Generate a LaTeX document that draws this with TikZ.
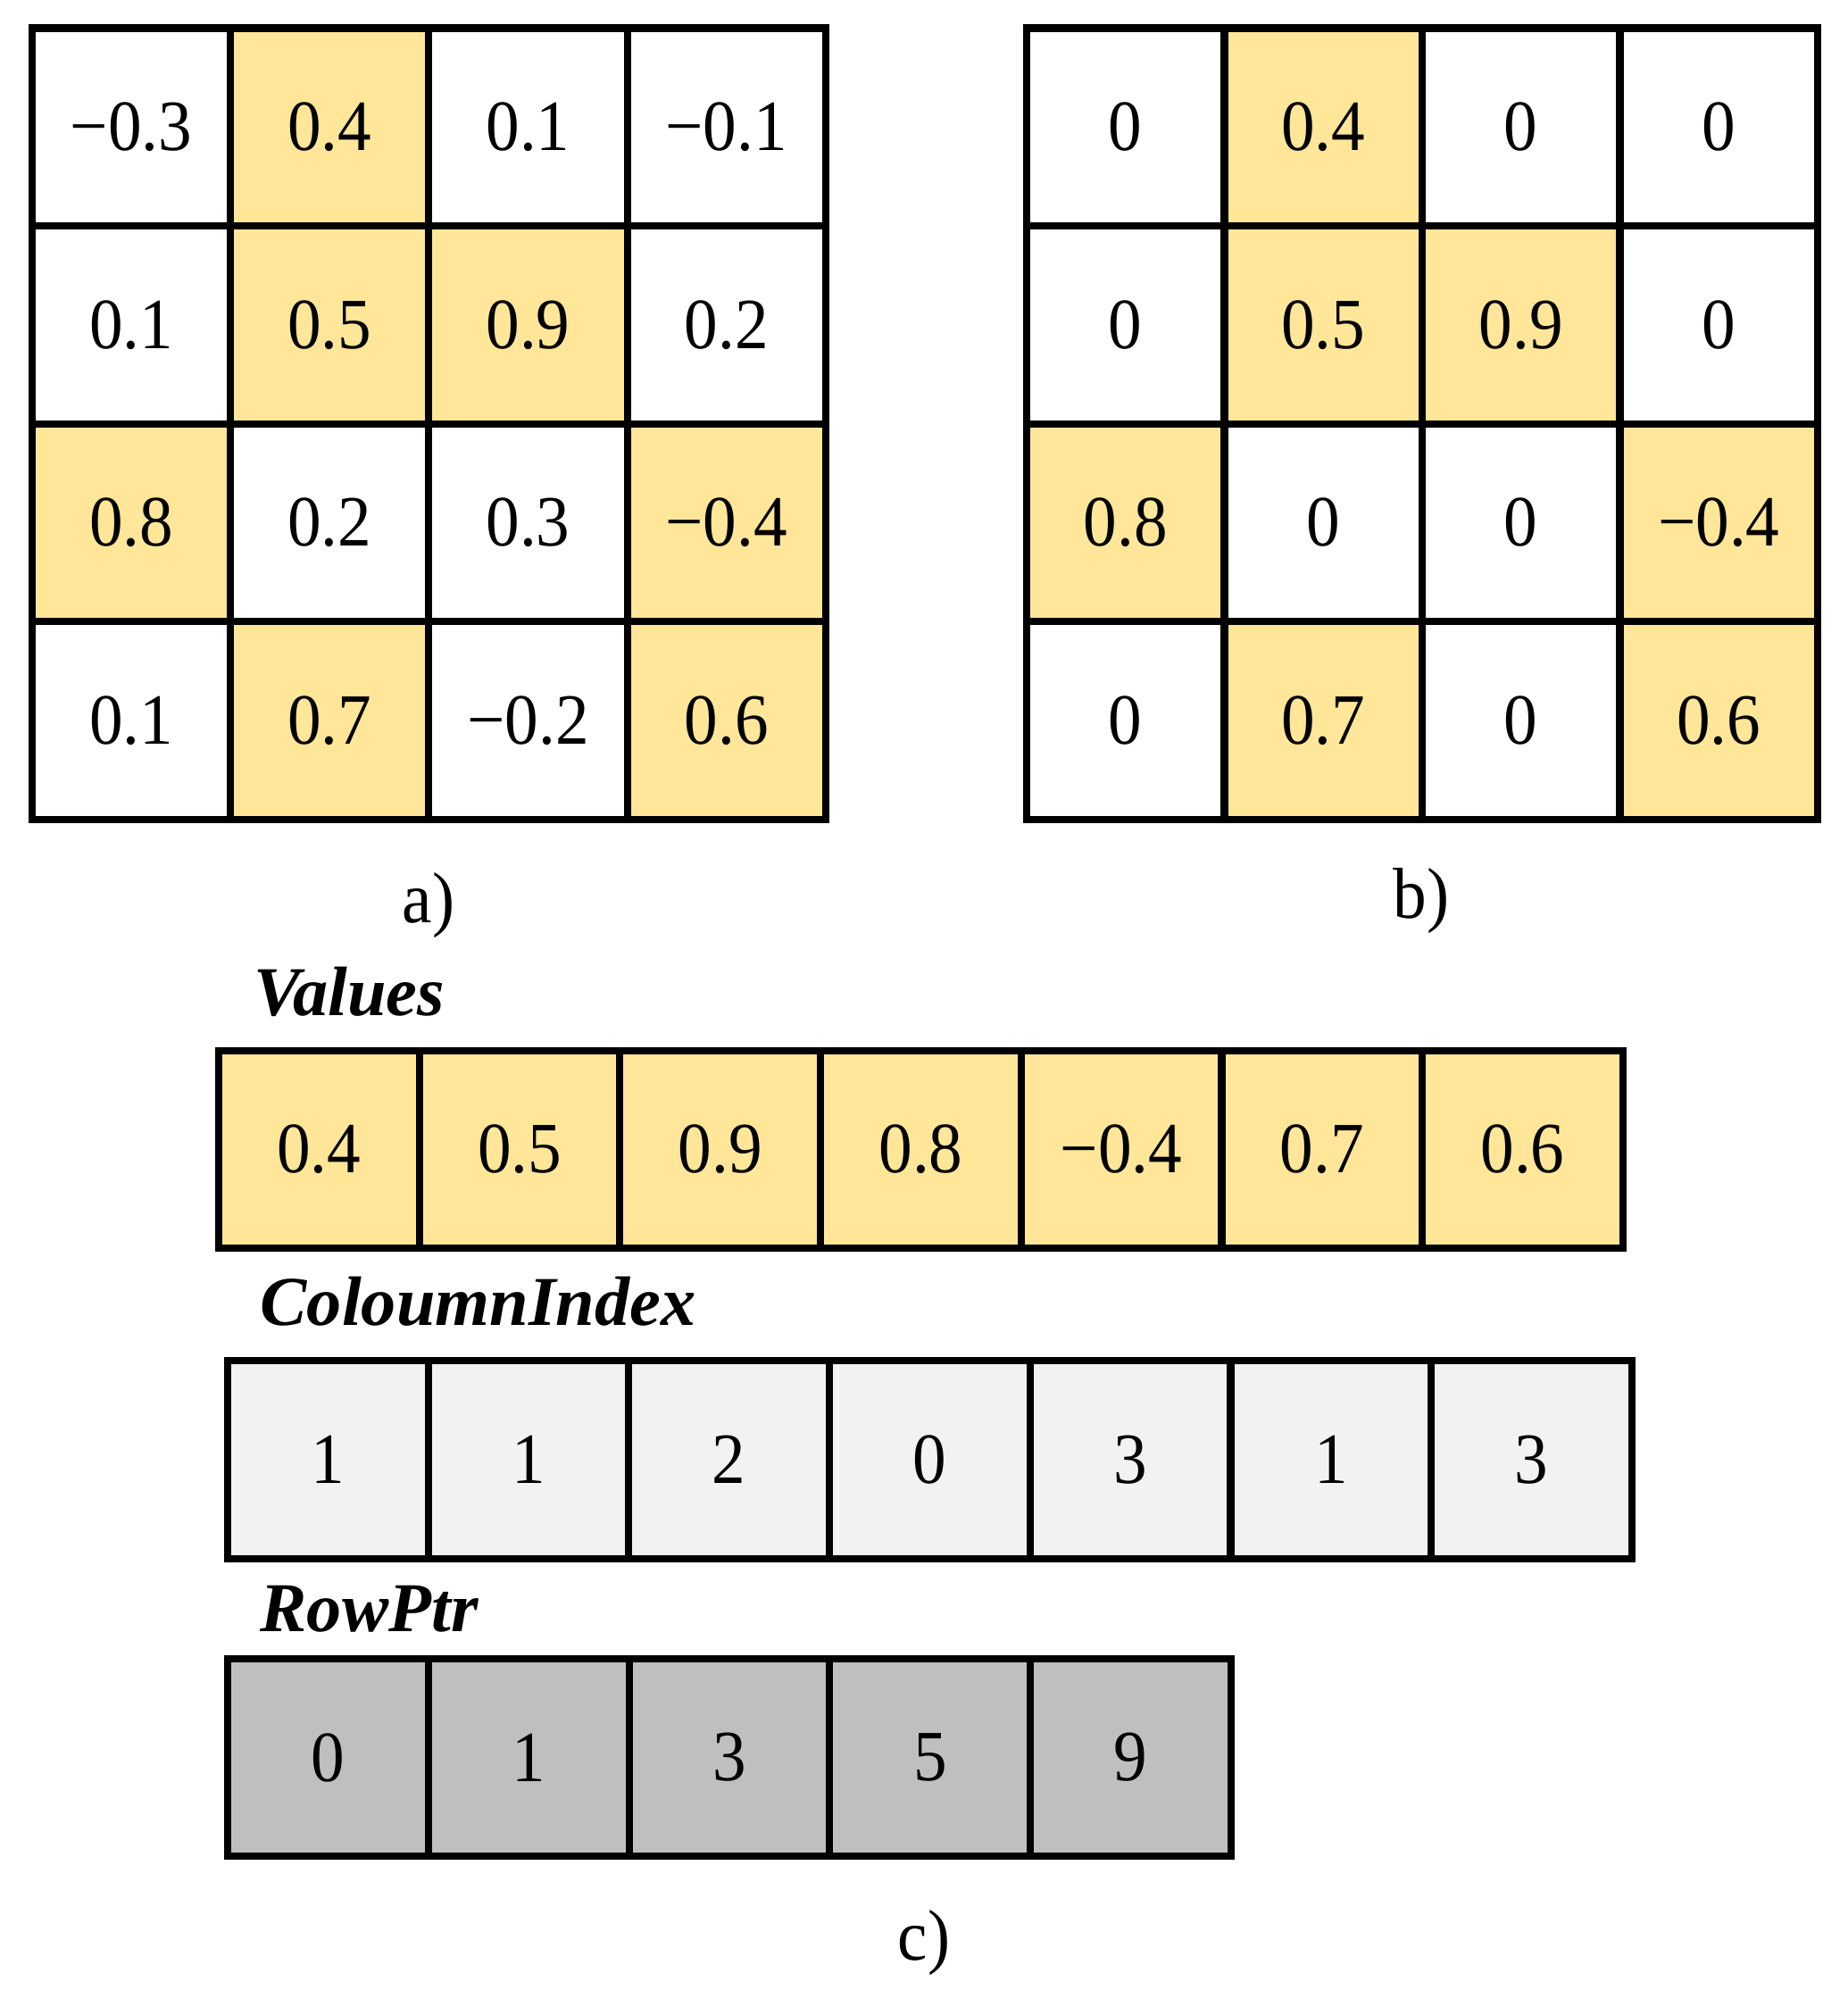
\documentclass[tikz,border=0pt]{standalone}
\usepackage{fontspec}
\setmainfont[FakeStretch=0.93]{Liberation Serif}
\newfontfamily\labfont{Liberation Serif}
\definecolor{cellyellow}{HTML}{FFE699}
\definecolor{celllight}{HTML}{F2F2F2}
\definecolor{cellgray}{HTML}{BFBFBF}
\begin{document}
\begin{tikzpicture}[
  cellbase/.style={inner sep=0pt, outer sep=0pt, font=\fontsize{23}{27}\selectfont, text=black},
  mcell/.style={cellbase, minimum width=2.222cm, minimum height=2.216cm},
  bcell/.style={cellbase, minimum width=2.215cm, minimum height=2.216cm},
  vcell/.style={cellbase, minimum width=2.247cm, minimum height=2.21cm, fill=cellyellow},
  icell/.style={cellbase, minimum width=2.247cm, minimum height=2.22cm, fill=celllight},
  rcell/.style={cellbase, minimum width=2.248cm, minimum height=2.21cm, fill=cellgray},
  wfill/.style={fill=white},
  yfill/.style={fill=cellyellow},
  border/.style={draw=black, line width=2.3pt},
  lab/.style={inner sep=0pt, font=\labfont\fontsize{22.3}{27}\selectfont\bfseries\itshape},
  captxt/.style={inner sep=0pt, font=\fontsize{23}{27}\selectfont}
]
\useasboundingbox (0,0) rectangle (20.69,-22.48);

% matrix a
\foreach \r/\c/\t/\s in {
  1/1/−0.3/wfill, 1/2/0.4/yfill, 1/3/0.1/wfill, 1/4/−0.1/wfill,
  2/1/0.1/wfill, 2/2/0.5/yfill, 2/3/0.9/yfill, 2/4/0.2/wfill,
  3/1/0.8/yfill, 3/2/0.2/wfill, 3/3/0.3/wfill, 3/4/−0.4/yfill,
  4/1/0.1/wfill, 4/2/0.7/yfill, 4/3/−0.2/wfill, 4/4/0.6/yfill}
  \node[mcell, \s] (a-\r-\c) at ({(36+(\c-0.5)*222.2)/100}, {-(31.5+(\r-0.5)*221.6)/100}) {\t};
\foreach \r in {1,...,4}
  \foreach \c in {1,...,4}
    \draw[border] (a-\r-\c.north west) rectangle (a-\r-\c.south east);

% matrix b
\foreach \r/\c/\t/\s in {
  1/1/0/wfill, 1/2/0.4/yfill, 1/3/0/wfill, 1/4/0/wfill,
  2/1/0/wfill, 2/2/0.5/yfill, 2/3/0.9/yfill, 2/4/0/wfill,
  3/1/0.8/yfill, 3/2/0/wfill, 3/3/0/wfill, 3/4/−0.4/yfill,
  4/1/0/wfill, 4/2/0.7/yfill, 4/3/0/wfill, 4/4/0.6/yfill}
  \node[bcell, \s] (b-\r-\c) at ({(1150+(\c-0.5)*221.5)/100}, {-(31.5+(\r-0.5)*221.6)/100}) {\t};
\foreach \r in {1,...,4}
  \foreach \c in {1,...,4}
    \draw[border] (b-\r-\c.north west) rectangle (b-\r-\c.south east);

\node[captxt, anchor=base] (capa) at (4.80,-10.33) {a)};
\node[captxt, anchor=base] (capb) at (15.92,-10.28) {b)};

% Values
\node[lab, anchor=base west] (vlab) at (2.84,-11.37) {Values};
\foreach \c/\t in {1/0.4, 2/0.5, 3/0.9, 4/0.8, 5/−0.4, 6/0.7, 7/0.6}
  \node[vcell] (v-\c) at ({(245+(\c-0.5)*224.7)/100}, {-(1177+110.5)/100}) {\t};
\foreach \c in {1,...,7}
  \draw[border] (v-\c.north west) rectangle (v-\c.south east);

% ColoumnIndex
\node[lab, anchor=base west] (ilab) at (2.91,-14.84) {ColoumnIndex};
\foreach \c/\t in {1/1, 2/1, 3/2, 4/0, 5/3, 6/1, 7/3}
  \node[icell] (i-\c) at ({(255+(\c-0.5)*224.7)/100}, {-(1524+111)/100}) {\t};
\foreach \c in {1,...,7}
  \draw[border] (i-\c.north west) rectangle (i-\c.south east);

% RowPtr
\node[lab, anchor=base west] (rlab) at (2.91,-18.27) {RowPtr};
\foreach \c/\t in {1/0, 2/1, 3/3, 4/5, 5/9}
  \node[rcell] (r-\c) at ({(255+(\c-0.5)*224.8)/100}, {-(1858+110.5)/100}) {\t};
\foreach \c in {1,...,5}
  \draw[border] (r-\c.north west) rectangle (r-\c.south east);

\node[captxt, anchor=base] (capc) at (10.35,-21.95) {c)};
\end{tikzpicture}
\end{document}
